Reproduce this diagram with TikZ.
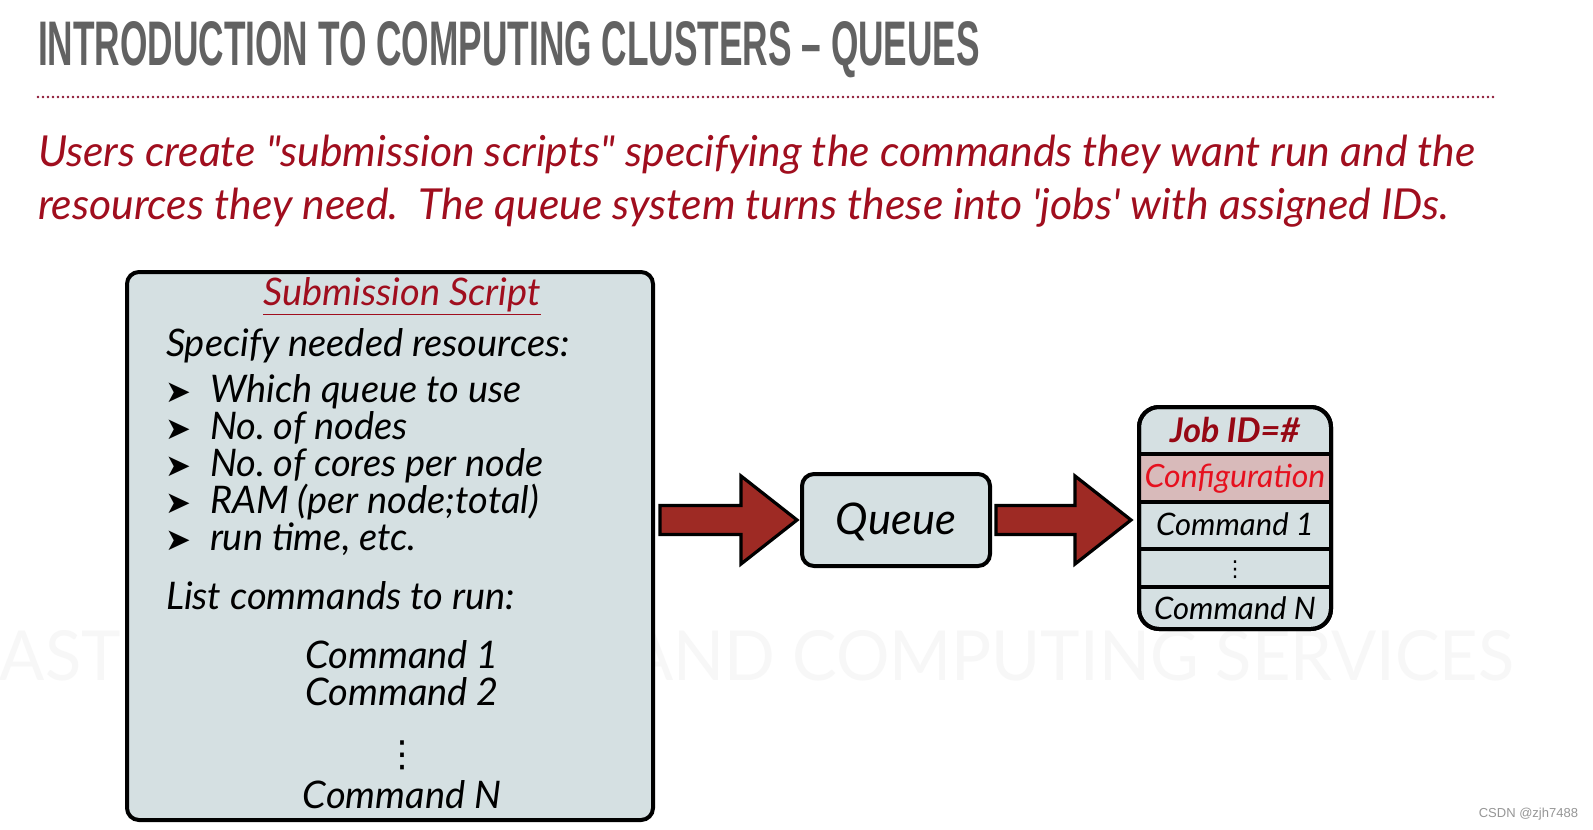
\documentclass[tikz,border=0pt]{standalone}
\usepackage{fontspec}
\usepackage{graphicx}
\setmainfont{Lato}
\newfontfamily\body{Lato}
\newfontfamily\titlefont{Liberation Sans}
\newfontfamily\symfont{DejaVu Sans}
\newfontfamily\wmfont{Liberation Sans}
\usetikzlibrary{calc}
\definecolor{boxfill}{RGB}{213,224,226}
\definecolor{titlegray}{RGB}{98,98,98}
\definecolor{subred}{RGB}{160,14,30}
\definecolor{dotred}{RGB}{140,20,50}
\definecolor{arrowred}{RGB}{158,42,36}
\definecolor{cfgfill}{RGB}{216,186,186}
\definecolor{cfgred}{RGB}{230,16,30}
\definecolor{jobred}{RGB}{150,8,20}
\definecolor{wmgray}{RGB}{150,150,150}
\tikzset{
  panel/.style={draw=black, line width=2pt, fill=boxfill, rounded corners=6pt},
  blockarrow/.style={draw=black, line width=1.6pt, fill=arrowred, line join=miter},
  bodytext/.style={anchor=base west, font=\body\itshape\fontsize{19}{22}\selectfont},
  ctrtext/.style={anchor=base, font=\body\itshape\fontsize{19}{22}\selectfont},
  jobtext/.style={anchor=base, font=\body\itshape\fontsize{15.5}{18}\selectfont},
  subtitle/.style={anchor=base west, text=subred, font=\body\itshape\fontsize{21.35}{25}\selectfont},
  bul/.style={anchor=base west, font=\symfont\fontsize{15.5}{17}\selectfont}
}
\newcommand\blockarr[2]{%
  \draw[blockarrow] ($(#1)+(0,-14.5)$) -- ($(#2)+(-56,-14.5)$) -- ($(#2)+(-56,-44)$) -- (#2)
    -- ($(#2)+(-56,44)$) -- ($(#2)+(-56,14.5)$) -- ($(#1)+(0,14.5)$) -- cycle;}
\begin{document}
\frenchspacing
\begin{tikzpicture}[x=0.5pt,y=-0.5pt, every node/.style={inner sep=0pt, outer sep=0pt}]
\useasboundingbox (0,0) rectangle (1593,829);
\fill[white] (0,0) rectangle (1593,829);
% faint background watermark
\node[anchor=base west, text=black!3] (wm) at (0,680) {\resizebox{757pt}{25pt}{\body\fontsize{30}{30}\selectfont ASTRONOMY DATA AND COMPUTING SERVICES}};
% title
\node[anchor=base west, text=titlegray] (title) at (38,66) {\resizebox{471pt}{22pt}{\titlefont\bfseries INTRODUCTION TO COMPUTING CLUSTERS – QUEUES}};
\coordinate (rulel) at (38,97);
\coordinate (ruler) at (1497,97);
\draw[dotred, line width=1.3pt, line cap=round, dash pattern=on 0pt off 2.5pt] (rulel) -- (ruler);
% subtitle
\node[subtitle] (sub1) at (38,166) {Users create "submission scripts" specifying the commands they want run and the};
\node[subtitle] (sub2) at (38,219) {resources they need.\ \ The queue system turns these into 'jobs' with assigned IDs.};
% submission script panel
\node[panel, minimum width=263pt, minimum height=274pt] (script) at (390,546) {};
\node[ctrtext, text=subred] (sstitle) at (402,305) {\underline{Submission Script}};
\node[bodytext] (spec) at (166,356) {Specify needed resources:};
\node[bul] (b1) at (165,402) {➤};
\node[bodytext] (i1) at (210,402) {Which queue to use};
\node[bul] (b2) at (165,439) {➤};
\node[bodytext] (i2) at (210,439) {No. of nodes};
\node[bul] (b3) at (165,476) {➤};
\node[bodytext] (i3) at (210,476) {No. of cores per node};
\node[bul] (b4) at (165,513) {➤};
\node[bodytext] (i4) at (210,513) {RAM (per node;total)};
\node[bul] (b5) at (165,550) {➤};
\node[bodytext] (i5) at (210,550) {run time, etc.};
\node[bodytext] (list) at (166,609) {List commands to run:};
\node[anchor=base, align=center, font=\body\itshape\fontsize{19}{18.5}\selectfont] (c12) at (402,705) {Command 1\\Command 2};
\node[anchor=center, font=\symfont\fontsize{18}{20}\selectfont] (cd) at (402,755) {⋮};
\node[ctrtext] (cn) at (402,808) {Command N};
% queue
\node[panel, minimum width=94pt, minimum height=46pt] (queue) at (896,520) {};
\node[anchor=base, font=\body\itshape\fontsize{21.8}{24}\selectfont] (qtext) at (896,534) {Queue};
% job box
\node[panel, rounded corners=10pt, minimum width=96pt, minimum height=111pt] (job) at (1235,518) {};
\fill[cfgfill] ($(job.west |- 0,454)+(1,0)$) rectangle ($(job.east |- 0,502)+(-1,0)$);
\coordinate (s1l) at (job.west |- 0,454); \coordinate (s1r) at (job.east |- 0,454);
\coordinate (s2l) at (job.west |- 0,502); \coordinate (s2r) at (job.east |- 0,502);
\coordinate (s3l) at (job.west |- 0,549); \coordinate (s3r) at (job.east |- 0,549);
\coordinate (s4l) at (job.west |- 0,587); \coordinate (s4r) at (job.east |- 0,587);
\foreach \s in {1,2,3,4} {\draw[line width=2pt] (s\s l) -- (s\s r);}
\draw[line width=2pt, rounded corners=10pt] (job.north west) rectangle (job.south east);
\node[anchor=base, text=jobred, font=\body\bfseries\itshape\fontsize{17}{20}\selectfont] (jid) at (1235,442) {Job ID=\#};
\node[jobtext, text=cfgred, font=\body\itshape\fontsize{16}{18}\selectfont] (cfg) at (1235,487) {Configuration};
\node[jobtext] (jc1) at (1235,535) {Command 1};
\node[anchor=center, font=\symfont\fontsize{11}{12}\selectfont] (jcd) at (1235,570) {⋮};
\node[jobtext] (jcn) at (1235,619) {Command N};
% arrows
\coordinate (a1s) at ($(script.east |- queue.west)+(7,0)$);
\coordinate (a1t) at ($(queue.west)+(-5,0)$);
\blockarr{a1s}{a1t}
\coordinate (a2s) at ($(queue.east)+(6,0)$);
\coordinate (a2t) at ($(job.west |- queue.west)+(-8,0)$);
\blockarr{a2s}{a2t}
% watermark
\node[anchor=base east, text=wmgray, font=\wmfont\fontsize{6.5}{8}\selectfont] (csdn) at (1578,817) {CSDN @zjh7488};
\end{tikzpicture}
\end{document}
